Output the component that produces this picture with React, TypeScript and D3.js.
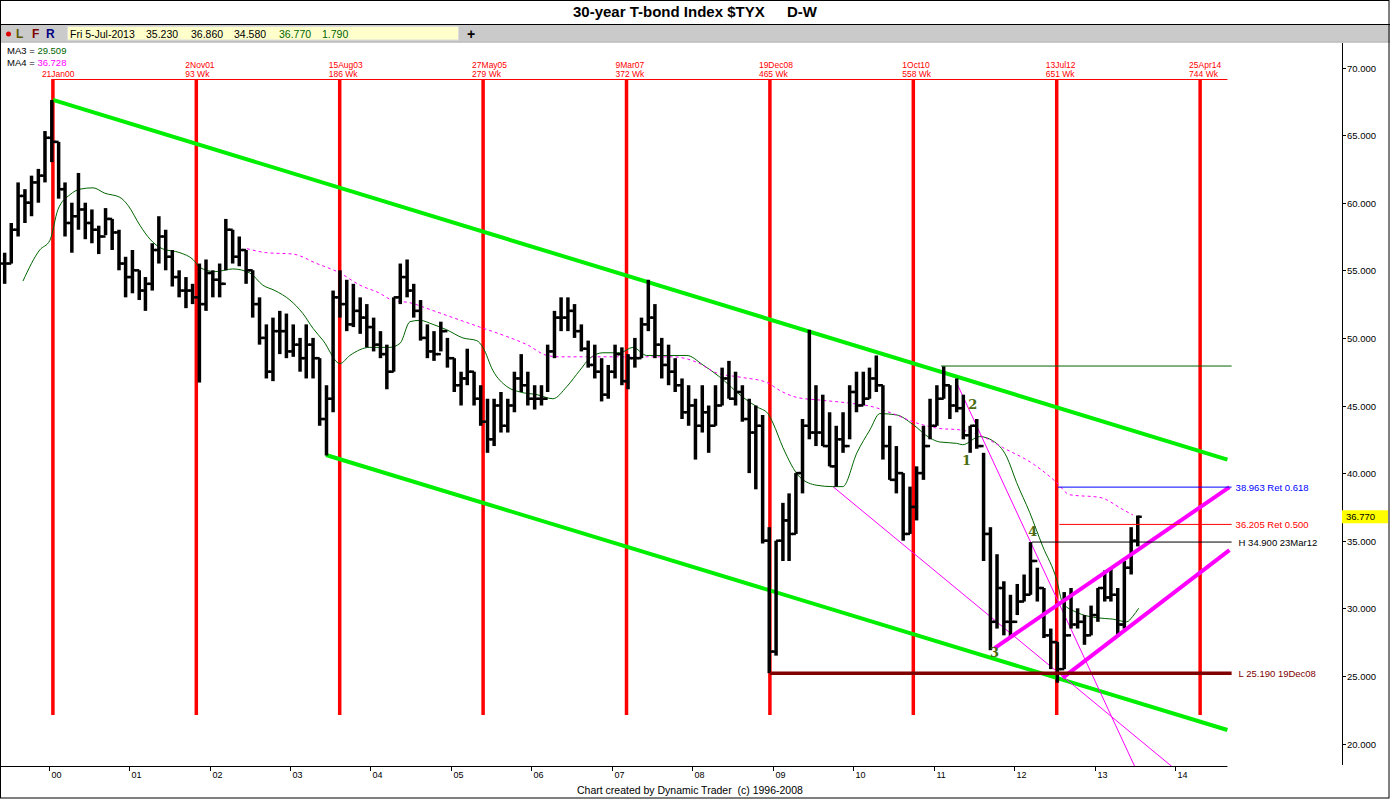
import { useEffect, useRef } from "react";
import * as d3 from "d3";

// monthly bars, Jun 1999 .. Jul 2013
const firstMonth = "1999-06-01";
const highs = [
  56.3, 58.5, 61.5, 61.0, 62.0, 62.5, 65.3,
  67.6, 64.5, 61.5, 60.0, 62.2, 60.0, 59.5, 58.3, 59.6, 58.8, 58.0, 56.0,
  56.5, 55.0, 54.5, 57.0, 59.0, 58.0, 56.5, 55.0, 54.5, 54.0, 55.5, 55.8,
  55.0, 55.5, 58.8, 58.0, 57.5, 56.5, 55.0, 53.0, 51.0, 51.5, 52.0, 51.8,
  51.0, 50.0, 51.0, 50.0, 48.5, 46.5, 53.5, 55.0, 54.3, 54.0, 53.0, 52.5,
  51.5, 50.5, 49.5, 53.0, 55.5, 55.8, 54.0, 52.8, 51.0, 50.5, 51.2, 50.0,
  48.5, 47.5, 49.2, 47.5, 46.5, 45.5, 45.5, 46.0, 45.5, 47.5, 48.8, 47.5,
  46.5, 46.5, 49.5, 52.0, 53.0, 53.0, 52.5, 51.0, 49.8, 49.5, 48.5, 48.0,
  49.5, 49.3, 48.8, 50.0, 51.5, 54.3, 52.5, 50.0, 49.5, 48.5, 47.0, 46.5,
  45.5, 46.5, 45.0, 46.5, 47.8, 48.3, 47.5, 46.5, 45.5, 45.0, 44.3, 36.0,
  35.0, 37.8, 38.5, 40.0, 44.0, 50.6, 46.5, 45.8, 44.5, 43.5, 44.5, 46.5,
  47.5, 47.5, 47.8, 48.7, 46.5, 43.5, 42.0, 40.0, 39.0, 40.5, 43.5, 45.5,
  46.5, 47.9, 46.5, 47.0, 45.8, 43.5, 44.0, 41.5, 36.0, 34.0, 32.0, 31.0,
  31.8, 32.5, 34.9, 33.0, 31.5, 28.5, 27.5, 31.2, 31.5, 30.0, 29.5, 30.2,
  31.5, 32.8, 33.0, 31.5, 33.5, 36.0, 36.86,
];
const lows = [
  54.0, 55.5, 57.5, 58.5, 59.0, 60.0, 61.5,
  63.0, 60.3, 57.5, 56.3, 58.0, 57.3, 57.0, 56.2, 57.6, 56.5, 55.0, 53.0,
  53.3, 52.8, 52.0, 53.5, 55.5, 55.0, 53.8, 53.0, 52.2, 52.5, 46.7, 52.0,
  53.0, 53.0, 55.0, 55.5, 55.3, 54.0, 51.5, 49.5, 47.0, 46.8, 48.8, 48.5,
  48.6, 47.5, 47.0, 47.0, 43.5, 41.3, 44.5, 51.5, 50.5, 50.8, 50.3, 49.3,
  49.0, 48.5, 46.2, 47.5, 52.5, 53.0, 51.5, 49.8, 48.5, 48.3, 49.0, 47.8,
  46.0, 45.0, 46.5, 45.0, 43.5, 41.5, 42.0, 43.0, 43.0, 44.5, 46.0, 45.0,
  44.7, 45.0, 46.0, 48.5, 50.5, 50.5, 50.0, 49.0, 47.8, 47.0, 45.3, 45.5,
  47.0, 46.5, 46.2, 47.8, 48.5, 50.5, 48.5, 47.0, 46.5, 46.0, 44.0, 43.5,
  41.0, 43.0, 41.5, 43.5, 45.0, 45.5, 45.0, 43.8, 40.0, 38.8, 34.8, 25.2,
  26.5, 33.5, 33.5, 35.5, 38.5, 42.5, 42.0, 42.0, 40.5, 39.0, 41.5, 42.5,
  44.5, 45.0, 45.5, 46.0, 41.0, 39.5, 38.5, 35.0, 35.5, 36.5, 39.5, 42.5,
  43.5, 45.5, 44.0, 44.5, 42.5, 41.5, 41.8, 33.5, 26.9, 28.5, 28.0, 27.8,
  29.5, 30.5, 31.0, 30.5, 27.8, 25.5, 24.5, 25.5, 28.5, 28.5, 27.3, 28.0,
  29.0, 30.5, 30.5, 27.9, 28.5, 32.5, 34.58,
];
const closes = [
  55.5, 58.0, 60.5, 60.0, 61.5, 62.0, 64.8,
  64.5, 61.0, 58.5, 59.0, 59.5, 58.5, 58.0, 57.5, 58.8, 57.8, 55.5, 54.5,
  55.0, 53.5, 54.0, 56.5, 57.5, 56.0, 54.5, 53.5, 53.5, 53.0, 52.5, 54.8,
  54.3, 54.0, 58.0, 56.0, 56.5, 55.0, 52.5, 50.0, 47.5, 50.5, 50.5, 49.0,
  49.5, 48.5, 49.5, 48.5, 44.0, 45.5, 53.0, 52.5, 51.0, 52.0, 51.5, 50.8,
  49.5, 48.8, 47.5, 53.0, 54.5, 53.5, 52.0, 50.0, 49.0, 48.8, 50.5, 48.5,
  46.5, 47.0, 47.5, 45.5, 43.8, 42.5, 45.0, 43.5, 45.0, 47.0, 46.5, 45.5,
  45.5, 45.5, 49.0, 51.5, 51.5, 52.0, 50.5, 49.2, 48.0, 47.5, 45.8, 47.5,
  48.8, 46.8, 48.5, 48.5, 51.0, 51.5, 49.5, 48.0, 47.5, 46.5, 44.5, 45.0,
  43.5, 44.5, 43.5, 45.0, 47.0, 45.5, 46.0, 44.0, 43.0, 43.5, 35.0, 26.8,
  35.0, 36.5, 35.5, 40.0, 43.5, 43.0, 43.0, 42.0, 40.5, 42.5, 42.0, 46.0,
  45.0, 45.5, 47.0, 46.5, 42.0, 39.5, 40.0, 35.5, 37.5, 40.0, 42.0, 43.5,
  45.5, 46.5, 45.0, 44.8, 42.8, 43.5, 42.0, 35.5, 29.0, 31.5, 29.0, 29.0,
  30.5, 31.0, 33.5, 31.5, 28.0, 27.5, 25.5, 28.0, 28.8, 29.0, 28.0, 29.5,
  31.5, 30.8, 31.0, 28.8, 33.0, 35.0, 36.77,
];

// moving averages (date, value)
const ma3: [string, number][] = [
  ["1999-09-07", 54.2], ["1999-11-22", 56.5], ["2000-01-07", 57.2], ["2000-02-13", 59.5],
  ["2000-04-08", 60.6], ["2000-05-23", 61.0], ["2000-07-21", 61.1], ["2000-09-13", 60.7],
  ["2000-11-20", 60.4], ["2000-12-27", 59.8], ["2001-02-20", 58.3], ["2001-04-06", 57.3],
  ["2001-05-31", 56.6], ["2001-08-20", 56.3], ["2001-10-18", 55.8], ["2001-11-19", 55.2],
  ["2002-01-26", 54.9], ["2002-04-17", 55.1], ["2002-07-03", 54.8], ["2002-08-31", 53.9],
  ["2002-10-25", 53.5], ["2003-01-01", 52.8], ["2003-03-01", 51.8], ["2003-04-16", 50.7],
  ["2003-06-01", 49.8], ["2003-08-16", 48.1], ["2003-09-30", 48.7], ["2003-12-30", 49.3],
  ["2004-03-30", 49.3], ["2004-05-15", 49.6], ["2004-06-29", 51.2], ["2004-08-13", 51.3],
  ["2004-10-11", 51.0], ["2004-12-13", 50.6], ["2005-02-24", 50.0], ["2005-04-28", 49.8],
  ["2005-05-26", 49.3], ["2005-07-10", 47.6], ["2005-09-12", 46.4], ["2005-11-10", 46.0],
  ["2006-01-27", 45.8], ["2006-04-09", 45.5], ["2006-06-11", 46.4], ["2006-08-09", 47.6],
  ["2006-09-24", 48.5], ["2006-11-22", 48.9], ["2007-02-07", 48.9], ["2007-04-07", 49.3],
  ["2007-06-09", 48.7], ["2007-12-08", 48.7], ["2008-02-19", 48.0], ["2008-05-06", 47.1],
  ["2008-08-19", 45.6], ["2008-10-21", 44.9], ["2008-12-10", 44.4], ["2009-01-02", 43.7],
  ["2009-02-16", 41.9], ["2009-05-04", 39.7], ["2009-07-20", 39.1], ["2009-10-01", 39.0],
  ["2009-11-15", 39.0], ["2010-01-18", 41.5], ["2010-03-18", 43.2], ["2010-05-02", 44.4],
  ["2010-07-18", 44.3], ["2010-09-29", 43.6], ["2010-12-15", 42.6], ["2011-01-29", 42.3],
  ["2011-04-16", 42.2], ["2011-05-13", 42.1], ["2011-07-29", 42.7], ["2011-09-26", 42.4],
  ["2011-11-29", 41.2], ["2012-01-13", 39.3], ["2012-03-12", 37.1], ["2012-05-10", 34.6],
  ["2012-07-13", 32.1], ["2012-08-09", 30.4], ["2012-10-12", 29.7], ["2013-01-11", 29.3],
  ["2013-03-25", 29.2], ["2013-05-27", 29.0], ["2013-06-23", 29.4], ["2013-07-20", 30.0],
];
const ma4: [string, number][] = [
  ["2002-06-20", 56.6], ["2002-09-18", 56.3], ["2003-01-14", 56.2], ["2003-05-03", 55.5],
  ["2003-08-16", 54.8], ["2003-11-15", 53.9], ["2004-02-13", 53.3], ["2004-04-08", 52.8],
  ["2004-06-29", 52.6], ["2004-09-28", 52.1], ["2005-01-10", 51.5], ["2005-05-12", 50.8],
  ["2005-09-12", 50.1], ["2005-12-12", 49.5], ["2006-03-13", 48.7], ["2006-05-10", 48.6],
  ["2006-09-10", 48.6], ["2007-01-06", 48.6], ["2007-06-09", 48.6], ["2007-10-05", 48.6],
  ["2008-01-22", 48.2], ["2008-04-22", 47.4], ["2008-08-05", 47.1], ["2008-12-06", 46.7],
  ["2009-02-03", 46.1], ["2009-04-20", 45.6], ["2009-08-03", 45.4], ["2009-12-03", 45.2],
  ["2010-04-01", 44.9], ["2010-06-30", 44.4], ["2010-10-17", 43.7], ["2011-01-29", 43.3],
  ["2011-04-30", 43.2], ["2011-08-12", 42.7], ["2011-11-10", 41.9], ["2012-03-26", 40.7],
  ["2012-07-13", 39.3], ["2012-09-10", 38.4], ["2013-01-25", 38.2], ["2013-05-10", 37.3],
  ["2013-06-24", 36.9],
];

// 93-week time cycle markers
const cycleDates = ["2000-01-21", "2001-11-02", "2003-08-15", "2005-05-27", "2007-03-09", "2008-12-19", "2010-10-01", "2012-07-13", "2014-04-25"];
const cycleNames = ["21Jan00", "2Nov01", "15Aug03", "27May05", "9Mar07", "19Dec08", "1Oct10", "13Jul12", "25Apr14"];
const cycleWeeks = [0, 93, 186, 279, 372, 465, 558, 651, 744];

// trend lines: [startDate, startPrice, endDate, endPrice]
const greenChannel: [string, number, string, number][] = [
  ["2000-01-21", 67.6, "2014-08-27", 41.0],
  ["2003-06-14", 41.34, "2014-08-27", 21.0],
];
const magentaChannel: [string, number, string, number][] = [
  ["2011-10-05", 27.06, "2014-09-05", 38.96],
  ["2012-08-09", 24.85, "2014-09-05", 34.3],
];
const magentaThin: [string, number, string, number][] = [
  ["2009-10-01", 39.0, "2013-12-20", 18.27],
  ["2011-04-16", 46.67, "2013-07-03", 18.27],
];

// horizontal levels
const levelStart = ["2011-02-04", "2012-07-18", "2012-07-25", "2012-03-23", "2008-12-19"];
const levelPrice = [47.92, 38.963, 36.205, 34.9, 25.19];
const levelColor = ["#006400", "#0000ff", "#ff0000", "#000000", "#800000"];
const levelWidth = [1, 1, 1, 1, 3.5];
const levelText = ["", "38.963 Ret 0.618", "36.205 Ret 0.500", "H 34.900 23Mar12", "L 25.190 19Dec08"];
const levelTextColor = ["", "#0000ff", "#ff0000", "#000000", "#800000"];

// Elliott wave counts
const waveLabels = ["1", "2", "3", "4"];
const waveDates = ["2011-05-31", "2011-06-28", "2011-10-05", "2012-03-26"];
const wavePrices = [40.9, 45.11, 26.7, 35.65];

const yTicks = [20, 25, 30, 35, 40, 45, 50, 55, 60, 65, 70];
const yearLabels = ["00", "01", "02", "03", "04", "05", "06", "07", "08", "09", "10", "11", "12", "13", "14"];
const lastQuote = ["35.230", "36.860", "34.580", "36.770", "1.790"];
const lastPrice = 36.77;

const FONT = "Tahoma, 'Liberation Sans', Arial, sans-serif";

export default function App() {
  const svgRef = useRef<SVGSVGElement>(null);
  const width = 1390;
  const height = 799;

  useEffect(() => {
    document.body.style.margin = "0";
    if (!svgRef.current) return;
    const svg = d3.select(svgRef.current);
    svg.selectAll("*").remove();

    const parse = d3.timeParse("%Y-%m-%d");
    const p = (s: string) => parse(s) as Date;

    const x = d3.scaleTime().domain([p("2000-01-01"), p("2014-01-01")]).range([48.5, 1175]);
    const y = d3.scaleLinear().domain([20, 70]).range([743.5, 67.5]);

    const chartRight = x(p("2014-08-27"));
    const levelEnd = x(p("2014-09-15"));
    const axisX = 1342;
    const plotTop = 43;
    const plotBottom = 766;

    svg.append("rect").attr("width", width).attr("height", height).attr("fill", "#ffffff");

    // title
    svg.append("text").attr("x", 573).attr("y", 17).attr("font-family", FONT).attr("font-size", 15)
      .attr("font-weight", "bold").text("30-year T-bond Index $TYX");
    svg.append("text").attr("x", 787).attr("y", 17).attr("font-family", FONT).attr("font-size", 15)
      .attr("font-weight", "bold").text("D-W");
    svg.append("line").attr("x1", 0).attr("x2", width).attr("y1", 24.5).attr("y2", 24.5).attr("stroke", "#000");

    // toolbar
    svg.append("rect").attr("x", 0).attr("y", 25).attr("width", width).attr("height", 16.5).attr("fill", "#cacaca");
    svg.append("line").attr("x1", 0).attr("x2", width).attr("y1", 42).attr("y2", 42).attr("stroke", "#9a9a9a");
    svg.append("circle").attr("cx", 8.5).attr("cy", 34).attr("r", 2.5).attr("fill", "#e00000");
    const tb = [["L", 16, "#5a5a00"], ["F", 32, "#800000"], ["R", 46, "#000080"]] as const;
    tb.forEach(([t, tx, c]) => {
      svg.append("text").attr("x", tx).attr("y", 38).attr("font-family", FONT).attr("font-size", 12)
        .attr("font-weight", "bold").attr("fill", c).text(t);
    });
    svg.append("rect").attr("x", 67.5).attr("y", 26.5).attr("width", 391).attr("height", 13.5)
      .attr("fill", "#ffffcc").attr("stroke", "#dcdcdc");
    svg.append("text").attr("x", 70).attr("y", 37.5).attr("font-family", FONT).attr("font-size", 10.5).text("Fri 5-Jul-2013");
    const qx = [146, 191, 234, 279, 322];
    lastQuote.forEach((q, i) => {
      svg.append("text").attr("x", qx[i]).attr("y", 37.5).attr("font-family", FONT).attr("font-size", 10.5)
        .attr("fill", i >= 3 ? "#006400" : "#000").text(q);
    });
    svg.append("text").attr("x", 471).attr("y", 38.5).attr("text-anchor", "middle").attr("font-family", FONT)
      .attr("font-size", 14).attr("font-weight", "bold").text("+");

    // MA legend
    const legend = [["MA3 = ", "29.509", "#006400", 53.5], ["MA4 = ", "36.728", "#ff00ff", 65.5]] as const;
    legend.forEach(([a, b, c, ly]) => {
      const t = svg.append("text").attr("x", 7).attr("y", ly).attr("font-family", FONT).attr("font-size", 9.5)
        .attr("xml:space", "preserve");
      t.append("tspan").text(a);
      t.append("tspan").attr("fill", c).text(b);
    });

    svg.append("defs").append("clipPath").attr("id", "plotClip").append("rect")
      .attr("x", 0).attr("y", plotTop).attr("width", axisX).attr("height", plotBottom - plotTop);
    const g = svg.append("g").attr("clip-path", "url(#plotClip)");

    // cycle lines
    const cx0 = x(p(cycleDates[0]));
    g.append("line").attr("x1", cx0).attr("x2", chartRight).attr("y1", 79.5).attr("y2", 79.5).attr("stroke", "#ff0000");
    cycleDates.forEach((d, i) => {
      const cx = x(p(d));
      g.append("line").attr("x1", cx).attr("x2", cx).attr("y1", 79).attr("y2", 715)
        .attr("stroke", "#ff0000").attr("stroke-width", 3.5);
      const lab = svg.append("text").attr("x", cx - 11).attr("font-family", FONT).attr("font-size", 8.5).attr("fill", "#ff0000");
      if (cycleWeeks[i] === 0) {
        lab.attr("y", 77).text(cycleNames[i]);
      } else {
        lab.attr("y", 68).text(cycleNames[i]);
        svg.append("text").attr("x", cx - 11).attr("y", 77).attr("font-family", FONT).attr("font-size", 8.5)
          .attr("fill", "#ff0000").text(`${cycleWeeks[i]} Wk`);
      }
    });

    const seg = (arr: [string, number, string, number][], color: string, w: number) => {
      arr.forEach(([d0, v0, d1, v1]) => {
        g.append("line").attr("x1", x(p(d0))).attr("y1", y(v0)).attr("x2", x(p(d1))).attr("y2", y(v1))
          .attr("stroke", color).attr("stroke-width", w);
      });
    };
    seg(greenChannel, "#00ee00", 4);
    seg(magentaThin, "#ff00ff", 1);

    // moving averages
    const maLine = d3.line<[string, number]>().x((d) => x(p(d[0]))).y((d) => y(d[1])).curve(d3.curveMonotoneX);
    g.append("path").attr("d", maLine(ma3)).attr("fill", "none").attr("stroke", "#006400").attr("stroke-width", 1);
    g.append("path").attr("d", maLine(ma4)).attr("fill", "none").attr("stroke", "#ff00ff").attr("stroke-width", 1)
      .attr("stroke-dasharray", "3,3");

    // price bars
    const months = d3.timeMonth.range(p(firstMonth), d3.timeMonth.offset(p(firstMonth), highs.length));
    const bars = g.append("g").attr("stroke", "#000");
    months.forEach((m, i) => {
      const bx = x(d3.timeDay.offset(m, 15));
      const open = i === 0 ? closes[0] : closes[i - 1];
      bars.append("line").attr("x1", bx).attr("x2", bx).attr("y1", y(highs[i])).attr("y2", y(lows[i])).attr("stroke-width", 3.5);
      bars.append("line").attr("x1", bx - 4).attr("x2", bx).attr("y1", y(open)).attr("y2", y(open)).attr("stroke-width", 2.5);
      bars.append("line").attr("x1", bx).attr("x2", bx + 4).attr("y1", y(closes[i])).attr("y2", y(closes[i])).attr("stroke-width", 2.5);
    });

    seg(magentaChannel, "#ff00ff", 4);

    // horizontal levels
    levelPrice.forEach((v, i) => {
      g.append("line").attr("x1", x(p(levelStart[i]))).attr("x2", levelEnd).attr("y1", y(v)).attr("y2", y(v))
        .attr("stroke", levelColor[i]).attr("stroke-width", levelWidth[i]);
      if (levelText[i]) {
        const lead = levelText[i].startsWith("H") || levelText[i].startsWith("L") ? 7 : 4;
        svg.append("text").attr("x", levelEnd + lead).attr("y", y(v) + 3.5).attr("font-family", FONT)
          .attr("font-size", 9.5).attr("fill", levelTextColor[i]).text(levelText[i]);
      }
    });

    // wave labels
    waveLabels.forEach((t, i) => {
      svg.append("text").attr("x", x(p(waveDates[i]))).attr("y", y(wavePrices[i])).attr("text-anchor", "middle")
        .attr("dominant-baseline", "central").attr("font-family", "'DejaVu Serif', 'Liberation Serif', serif")
        .attr("font-size", 13).attr("font-weight", "bold").attr("fill", "#4a6a10").text(t);
    });

    // bottom axis
    svg.append("line").attr("x1", 0).attr("x2", chartRight).attr("y1", plotBottom + 0.5).attr("y2", plotBottom + 0.5).attr("stroke", "#000");
    yearLabels.forEach((lbl, i) => {
      const tx = Math.round(x(new Date(2000 + i, 0, 1))) + 0.5;
      svg.append("line").attr("x1", tx).attr("x2", tx).attr("y1", plotBottom).attr("y2", plotBottom + 5).attr("stroke", "#000");
      svg.append("text").attr("x", tx + 2).attr("y", plotBottom + 12).attr("font-family", FONT).attr("font-size", 9).text(lbl);
    });

    // right axis
    svg.append("line").attr("x1", axisX + 0.5).attr("x2", axisX + 0.5).attr("y1", plotTop).attr("y2", plotBottom - 1).attr("stroke", "#000");
    yTicks.forEach((v) => {
      const ty = Math.round(y(v)) + 0.5;
      svg.append("line").attr("x1", axisX).attr("x2", axisX + 4).attr("y1", ty).attr("y2", ty).attr("stroke", "#000");
      svg.append("text").attr("x", axisX + 5).attr("y", ty + 3.5).attr("font-family", FONT).attr("font-size", 9.5).text(d3.format(".3f")(v));
    });
    svg.append("rect").attr("x", axisX).attr("y", y(lastPrice) - 6.5).attr("width", 46).attr("height", 13).attr("fill", "#ffff00");
    svg.append("text").attr("x", axisX + 4).attr("y", y(lastPrice) + 3.5).attr("font-family", FONT).attr("font-size", 9.5)
      .text(d3.format(".3f")(lastPrice));

    svg.append("text").attr("x", 577).attr("y", 794).attr("font-family", FONT).attr("font-size", 10.5)
      .text("Chart created by Dynamic Trader  (c) 1996-2008").attr("xml:space", "preserve");

    // outer frame
    svg.append("rect").attr("x", 0.5).attr("y", 0.5).attr("width", width - 1.5).attr("height", height - 1.5)
      .attr("fill", "none").attr("stroke", "#000");
  }, []);

  return <svg ref={svgRef} width={width} height={height} style={{ display: "block" }} />;
}
